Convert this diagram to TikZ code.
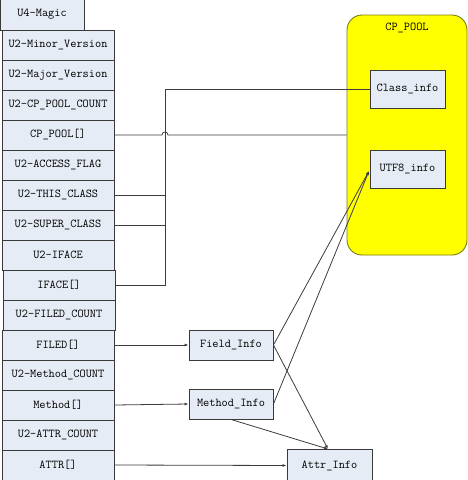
\documentclass[tikz,border=0pt]{standalone}
\usepackage{fontspec}
\usetikzlibrary{arrows.meta}
\definecolor{boxfill}{HTML}{E6ECF5}
\definecolor{boxline}{HTML}{3A3A3A}
\definecolor{poolline}{HTML}{7A7A10}
\definecolor{wire}{HTML}{3C3C3C}
\definecolor{poolyellow}{HTML}{FFFF00}
\begin{document}
\begin{tikzpicture}[x=1pt,y=-1pt,
  fbox/.style={draw=boxline,fill=boxfill,line width=0.9pt,inner sep=0pt,
    minimum height=30pt,font=\ttfamily\fontsize{12pt}{14pt}\selectfont},
  lbox/.style={fbox,minimum width=112pt},
  ibox/.style={fbox,minimum width=84pt},
  wireline/.style={draw=wire,line width=0.8pt},
  arr/.style={wireline,-{Latex[length=4pt,width=3pt]}}]
\useasboundingbox (0,0) rectangle (468,480);
% left column
\node[fbox,minimum width=84pt,minimum height=32pt] (magic) at (42,14) {U4-Magic};
\node[lbox] (minor) at (58,45) {U2-Minor\_Version};
\node[lbox] (major) at (58,75) {U2-Major\_Version};
\node[lbox] (cpcount) at (58,105) {U2-CP\_POOL\_COUNT};
\node[lbox] (cppool) at (58,135) {CP\_POOL[]};
\node[lbox] (access) at (58,165) {U2-ACCESS\_FLAG};
\node[lbox] (thiscls) at (58,195) {U2-THIS\_CLASS};
\node[lbox] (supercls) at (58,225) {U2-SUPER\_CLASS};
\node[lbox] (ifacec) at (58,255) {U2-IFACE};
\node[lbox] (iface) at (59,285) {IFACE[]};
\node[lbox] (fieldc) at (59,315) {U2-FILED\_COUNT};
\node[lbox] (field) at (58,345) {FILED[]};
\node[lbox] (methc) at (58,375) {U2-Method\_COUNT};
\node[lbox] (meth) at (58,405) {Method[]};
\node[lbox] (attrc) at (58,435) {U2-ATTR\_COUNT};
\node[lbox] (attr) at (58,465) {ATTR[]};
% constant pool
\node[draw=poolline,fill=poolyellow,line width=0.9pt,rounded corners=15pt,
  minimum width=120pt,minimum height=240pt,inner sep=0pt] (pool) at (407,135) {};
\node[font=\ttfamily\fontsize{12pt}{14pt}\selectfont,anchor=north] (pooltitle) at (407,19) {CP\_POOL};
\node[ibox,minimum width=75pt,minimum height=38pt] (clsinfo) at (407.5,89) {Class\_info};
\node[ibox,minimum width=75pt,minimum height=38pt] (utf) at (407.5,169) {UTF8\_info};
% right side info boxes
\node[ibox] (finfo) at (231,345) {Field\_Info};
\node[ibox] (minfo) at (231,404) {Method\_Info};
\node[fbox,minimum width=85pt,minimum height=33pt] (ainfo) at (329.5,465.5) {Attr\_Info};
% junction
\coordinate (j) at (165,89);
\coordinate (hopL) at (162,135);
% class references
\draw[wireline] (iface.east) -| (j) -- (clsinfo.west);
\draw[wireline] (thiscls.east) -- (thiscls.east -| j);
\draw[wireline] (supercls.east) -- (supercls.east -| j);
% CP_POOL[] to pool with hop
\draw[wireline] (cppool.east) -- (hopL) arc[start angle=180,end angle=0,radius=3pt] -- (pool.west |- cppool.east);
% arrays to infos
\draw[arr] (field.east) -- (finfo.west);
\draw[arr] (meth.east) -- (minfo.west);
\draw[arr] (attr.east) -- (ainfo.west);
% info to utf8 / attr
\coordinate (utfin) at (369,171);
\coordinate (attrin) at (328,449);
\draw[arr] (finfo.east) -- (utfin);
\draw[arr] (minfo.east) -- (utfin);
\draw[arr] (finfo.east) -- (attrin);
\draw[arr] (minfo.south) -- (attrin);
\end{tikzpicture}
\end{document}
